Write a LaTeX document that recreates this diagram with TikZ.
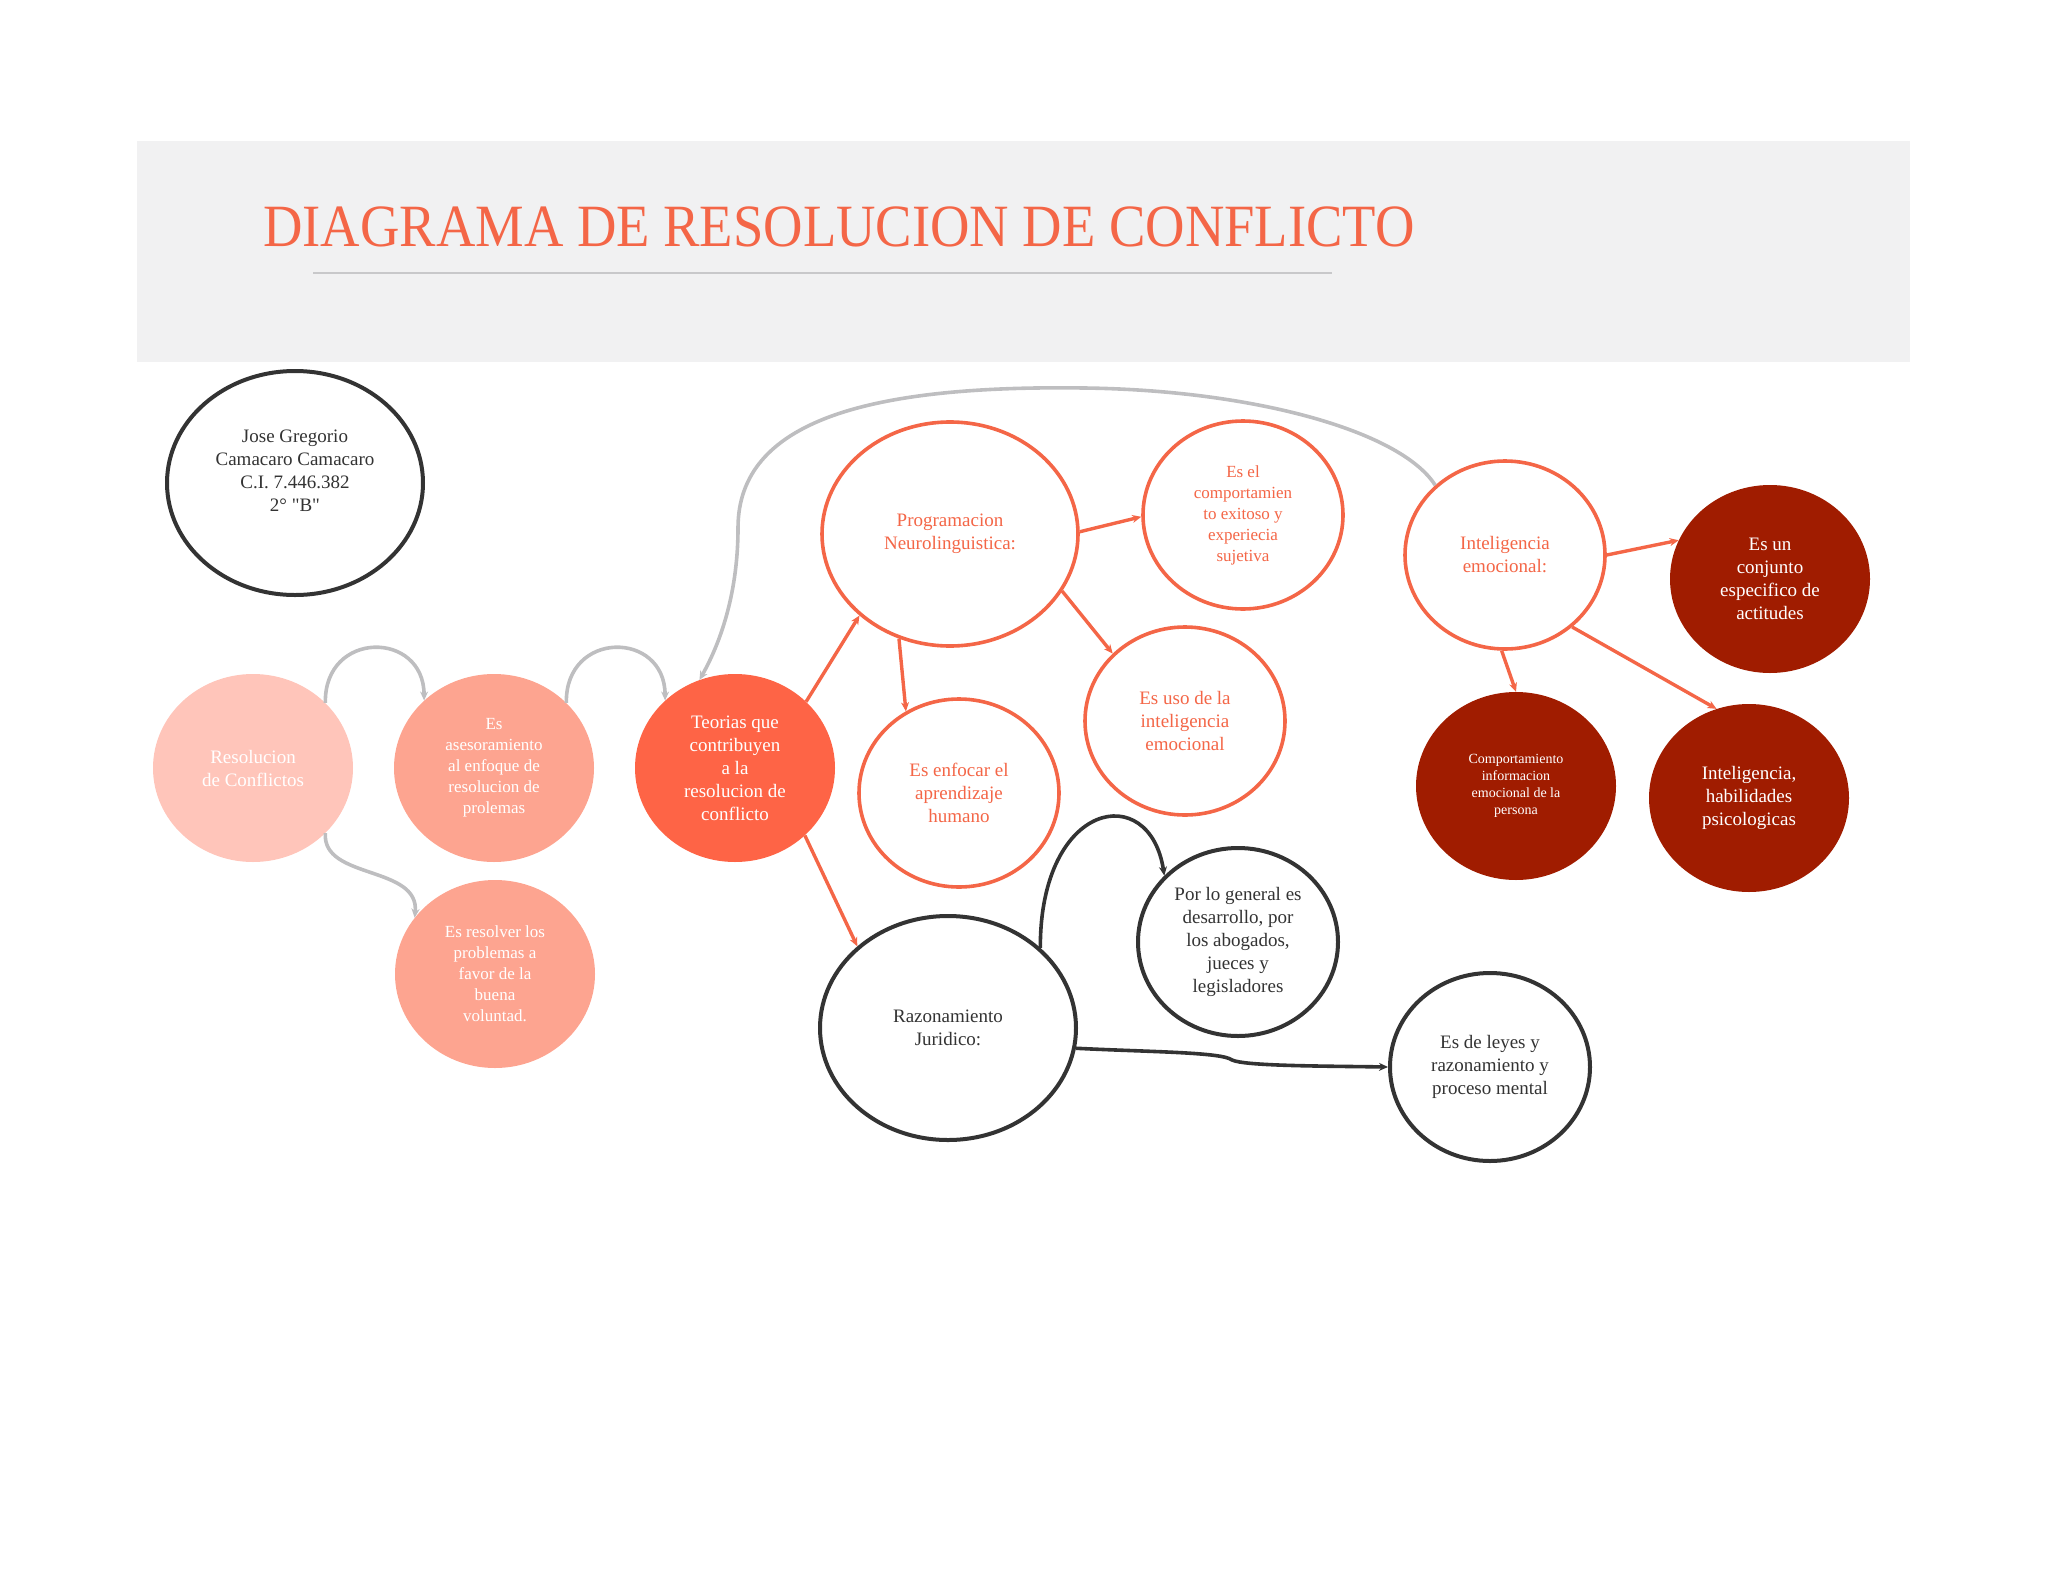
\documentclass[tikz,border=0pt]{standalone}
\usepackage{fontspec}
\setmainfont{Liberation Serif}[Ligatures=TeXOff]
\newfontfamily\titlefont{Liberation Serif}[FakeStretch=0.91]
\usetikzlibrary{shapes.geometric,arrows.meta}

\definecolor{coral}{RGB}{244,102,71}
\definecolor{paleres}{RGB}{255,197,186}
\definecolor{salmon}{RGB}{253,164,144}
\definecolor{tomato}{RGB}{254,100,70}
\definecolor{darkred}{RGB}{160,28,0}
\definecolor{inkgray}{RGB}{51,51,51}
\definecolor{bandgray}{RGB}{241,241,242}
\definecolor{curvegray}{RGB}{190,190,192}
\definecolor{rulegray}{RGB}{200,200,202}

\begin{document}
\begin{tikzpicture}[x=1pt, y=-1pt,
  bub/.style={ellipse, minimum width=200pt, minimum height=188pt, inner sep=0pt, align=center,
    font=\fontsize{19}{23}\selectfont},
  bigbub/.style={bub, minimum width=256pt, minimum height=224pt},
  smalltxt/.style={font=\fontsize{17}{21}\selectfont},
  paleb/.style={bub, fill=paleres, text=white},
  salmonb/.style={bub, smalltxt, fill=salmon, text=white},
  tomatob/.style={bub, fill=tomato, text=white},
  outb/.style={bub, draw=coral, line width=3.6pt, fill=white, text=coral},
  darkb/.style={bub, fill=darkred, text=white},
  blackb/.style={bub, draw=inkgray, line width=4pt, fill=white, text=inkgray},
  grayedge/.style={draw=curvegray, line width=3.6pt, -{Stealth[length=9pt,width=8pt]}},
  orangeedge/.style={draw=coral, line width=3.4pt, -{Stealth[length=9pt,width=8pt]}},
  blackedge/.style={draw=inkgray, line width=3.6pt, -{Stealth[length=9pt,width=8pt]}}
]
\useasboundingbox (0,0) rectangle (2048,1582);

% header
\fill[bandgray] (137,141) rectangle (1910,362);
\node[anchor=west, inner sep=0pt, text=coral, font=\titlefont\fontsize{60}{66}\selectfont] (title) at (263,227)
  {DIAGRAMA DE RESOLUCION DE CONFLICTO};
\draw[rulegray, line width=2pt] (313,273) -- (1332,273);

% left group
\node[blackb, bigbub, text depth=25pt] (jose) at (295,483) {Jose Gregorio\\Camacaro Camacaro\\C.I. 7.446.382\\2° "B"};
\node[paleb] (res) at (253,768) {Resolucion\\de Conflictos};
\node[salmonb] (ases) at (494,768) {Es\\asesoramiento\\al enfoque de\\resolucion de\\prolemas};
\node[salmonb] (esres) at (495,974) {Es resolver los\\problemas a\\favor de la\\buena\\voluntad.};
\node[tomatob] (teo) at (735,768) {Teorias que\\contribuyen\\a la\\resolucion de\\conflicto};

% programacion neurolinguistica
\node[outb, bigbub] (prog) at (950,534) {Programacion\\Neurolinguistica:};
\node[outb, smalltxt] (esel) at (1243,515) {Es el\\comportamien\\to exitoso y\\experiecia\\sujetiva};
\node[outb] (uso) at (1185,721) {Es uso de la\\inteligencia\\emocional};
\node[outb] (enf) at (959,793) {Es enfocar el\\aprendizaje\\humano};

% inteligencia emocional
\node[outb] (ie) at (1505,555) {Inteligencia\\emocional:};
\node[darkb] (esun) at (1770,579) {Es un\\conjunto\\especifico de\\actitudes};
\node[darkb, font=\fontsize{14}{17}\selectfont] (comp) at (1516,786) {Comportamiento\\informacion\\emocional de la\\persona};
\node[darkb] (hab) at (1749,798) {Inteligencia,\\habilidades\\psicologicas};

% razonamiento juridico
\node[blackb, bigbub] (raz) at (948,1028) {Razonamiento\\Juridico:};
\node[blackb] (gen) at (1238,942) {Por lo general es\\desarrollo, por\\los abogados,\\jueces y\\legisladores};
\node[blackb] (leyes) at (1490,1067) {Es de leyes y\\razonamiento y\\proceso mental};

\coordinate (arcA) at (738,528);
\coordinate (arcTop) at (1084,388);
\coordinate (stepR) at (1232,1060);

\draw[grayedge] (res.42) .. controls (324,630) and (424,630) .. (ases.136);
\draw[grayedge] (ases.42) .. controls (565,630) and (665,630) .. (teo.136);
\draw[grayedge] (res.-42) .. controls (322,880) and (420,865) .. (esres.145);
\draw[grayedge, {Stealth[length=9pt,width=8pt]}-] (teo.112) .. controls (722,640) and (738,590) .. (arcA)
  .. controls (738,420) and (870,385) .. (arcTop)
  .. controls (1250,390) and (1400,430) .. (ie.135);

\draw[orangeedge] (teo.43) -- (prog.222);
\draw[orangeedge] (prog.244) -- (enf.123);
\draw[orangeedge] (prog.1) -- (esel.181);
\draw[orangeedge] (prog.-27) -- (uso.137);
\draw[orangeedge] (teo.-44) -- (raz.138);
\draw[orangeedge] (ie.0) -- (esun.157);
\draw[orangeedge] (ie.268) -- (comp.north);
\draw[orangeedge] (ie.-47) -- (hab.110);

\draw[blackedge] (raz.41) .. controls (1040,800) and (1150,780) .. (gen.138);
\draw[blackedge] (raz.-9) .. controls (1150,1052) and (1222,1052) .. (stepR)
  .. controls (1245,1066) and (1320,1066) .. (leyes.west);

\end{tikzpicture}
\end{document}
